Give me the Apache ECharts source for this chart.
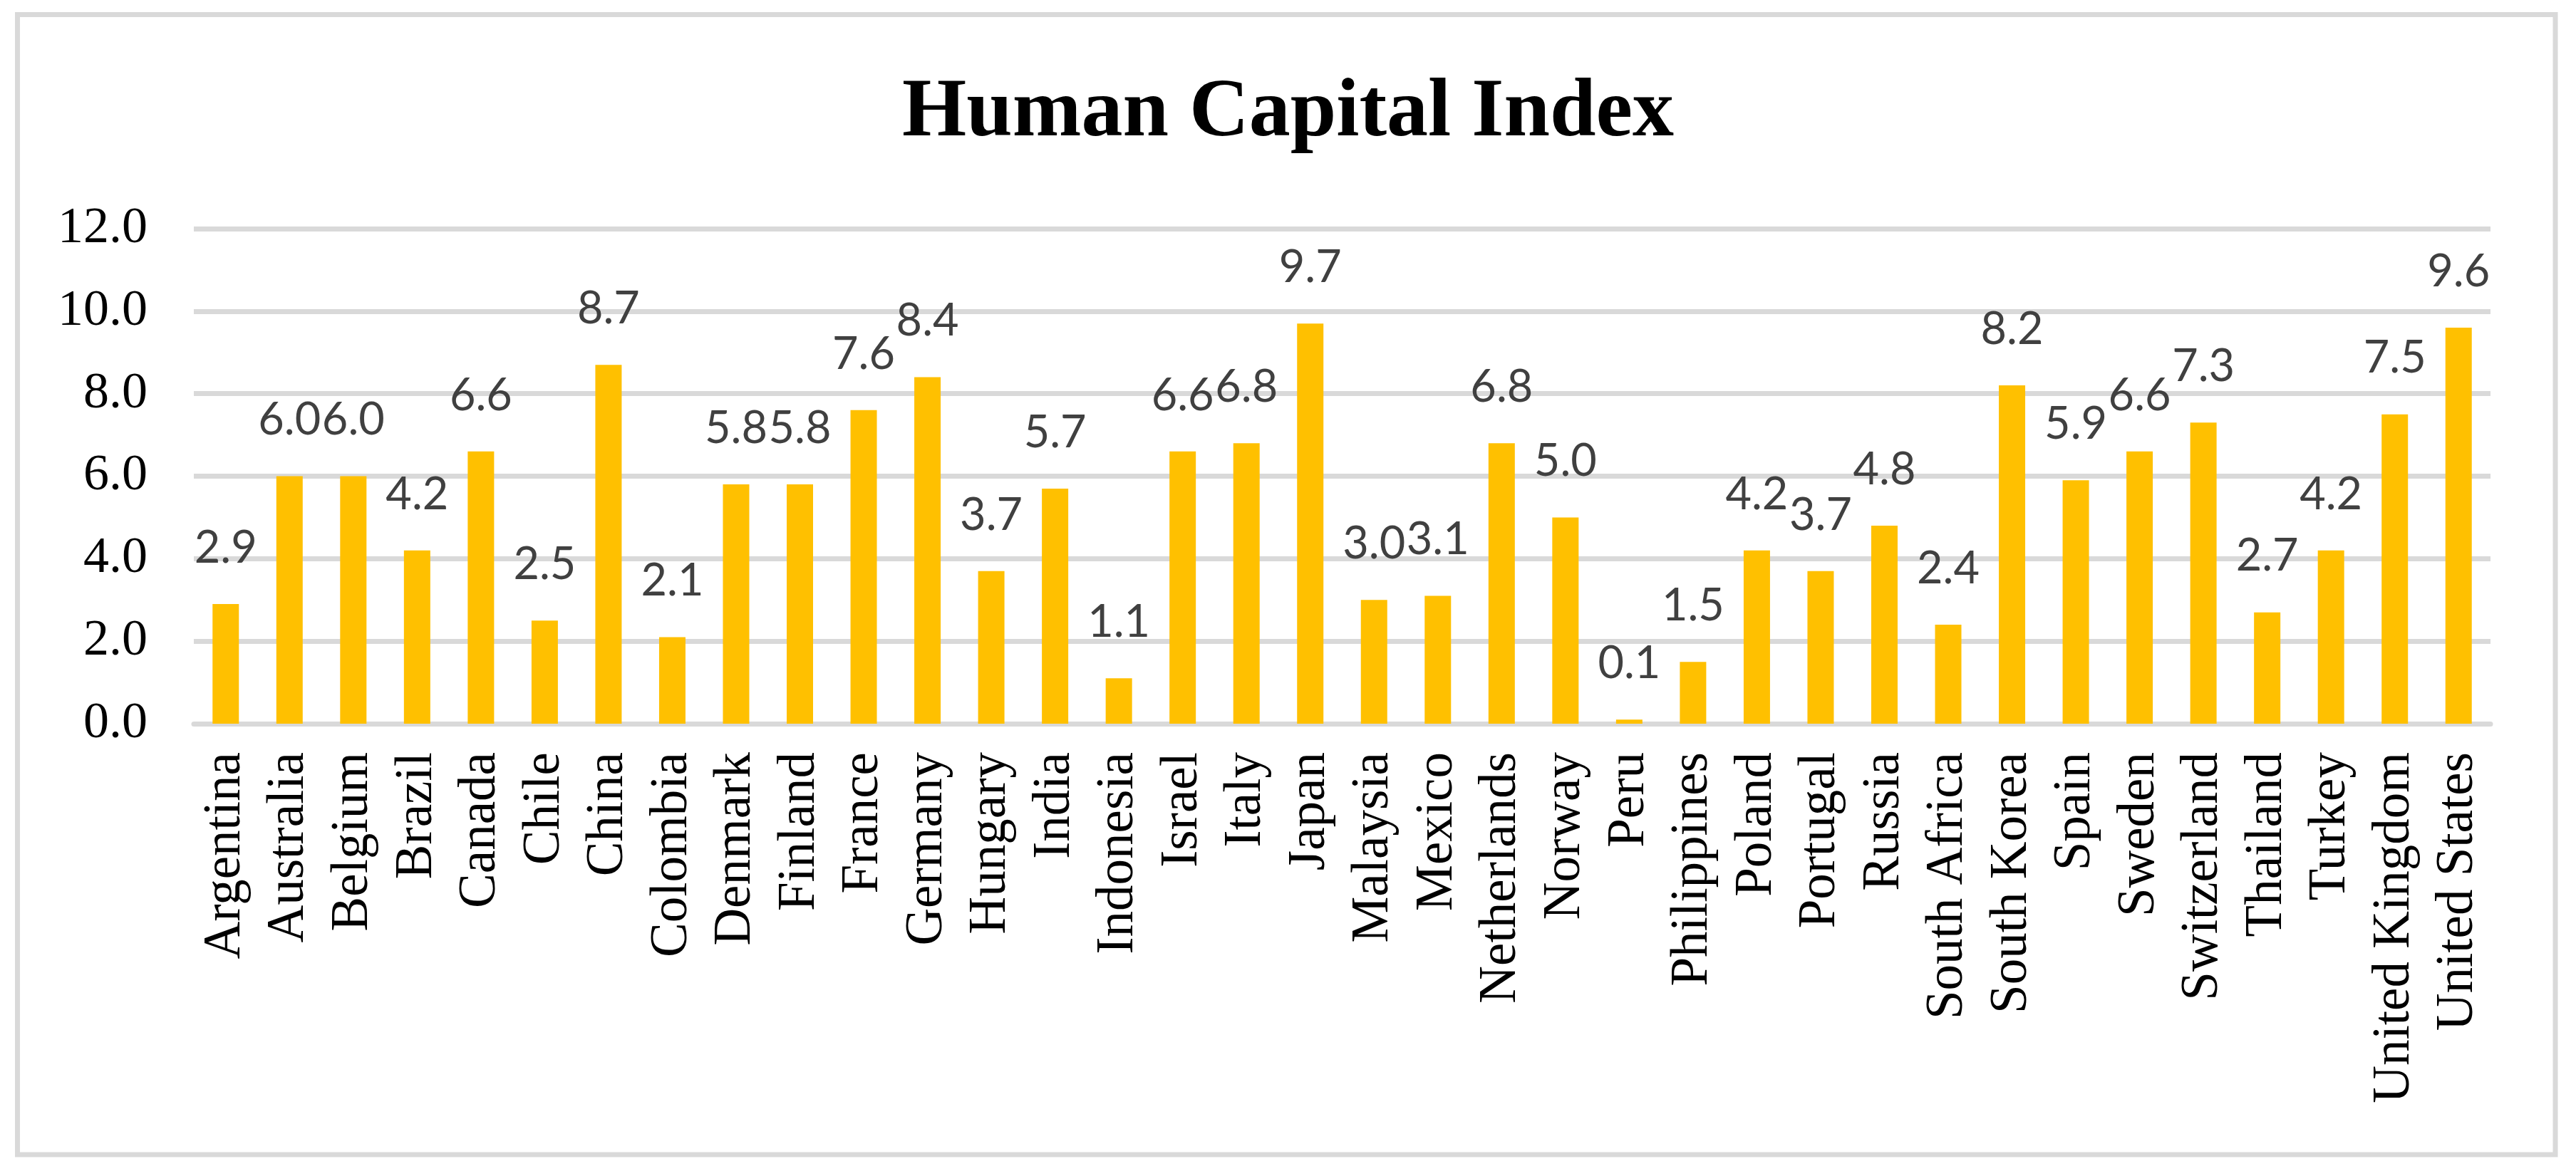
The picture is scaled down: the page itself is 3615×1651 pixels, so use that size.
<!DOCTYPE html>
<html>
<head>
<meta charset="utf-8">
<script src="https://cdn.jsdelivr.net/npm/echarts@6/dist/echarts.min.js"></script>
<style>
html,body{margin:0;padding:0;background:#fff;}
#chart{width:3615px;height:1651px;}
</style>
</head>
<body>
<div id="chart"></div>
<script>
const titleText = "Human Capital Index";
const countries = ["Argentina","Australia","Belgium","Brazil","Canada","Chile","China","Colombia","Denmark","Finland","France","Germany","Hungary","India","Indonesia","Israel","Italy","Japan","Malaysia","Mexico","Netherlands","Norway","Peru","Philippines","Poland","Portugal","Russia","South Africa","South Korea","Spain","Sweden","Switzerland","Thailand","Turkey","United Kingdom","United States"];
const hciValues = [2.9,6.0,6.0,4.2,6.6,2.5,8.7,2.1,5.8,5.8,7.6,8.4,3.7,5.7,1.1,6.6,6.8,9.7,3.0,3.1,6.8,5.0,0.1,1.5,4.2,3.7,4.8,2.4,8.2,5.9,6.6,7.3,2.7,4.2,7.5,9.6];
const yMin = 0, yMax = 12, yStep = 2;

const chart = echarts.init(document.getElementById('chart'), null, {renderer:'canvas'});
chart.setOption({
  backgroundColor:'#ffffff',
  animation:false,
  title:{
    text:titleText,
    left:'center',
    top:97,
    textStyle:{fontFamily:'Liberation Serif',fontWeight:'bold',fontSize:116,color:'#000000'}
  },
  graphic:[{
    type:'rect',
    shape:{x:24.5,y:20.5,width:3561.5,height:1600.5},
    style:{fill:'none',stroke:'#D9D9D9',lineWidth:7},
    silent:true, z:-1
  }],
  grid:{left:272,right:120,top:321,bottom:635,containLabel:false},
  xAxis:{
    type:'category',
    data:countries,
    axisLine:{show:true,lineStyle:{color:'#D9D9D9',width:7}},
    axisTick:{show:false},
    axisLabel:{rotate:90,interval:0,margin:40,fontFamily:'Liberation Serif',fontSize:73,color:'#000000'}
  },
  yAxis:{
    type:'value',
    min:yMin,max:yMax,interval:yStep,
    axisLine:{show:false},
    axisTick:{show:false},
    splitLine:{lineStyle:{color:'#D9D9D9',width:7}},
    axisLabel:{margin:65,fontFamily:'Liberation Serif',fontSize:72,color:'#000000',formatter:v=>v.toFixed(1)}
  },
  series:[{
    type:'bar',
    data:hciValues,
    barWidth:37,
    itemStyle:{color:'#FFC000'},
    label:{show:true,position:'top',distance:47,fontFamily:'Lato',fontSize:63,color:'#404040',formatter:p=>p.value.toFixed(1)}
  }]
});
</script>
</body>
</html>
